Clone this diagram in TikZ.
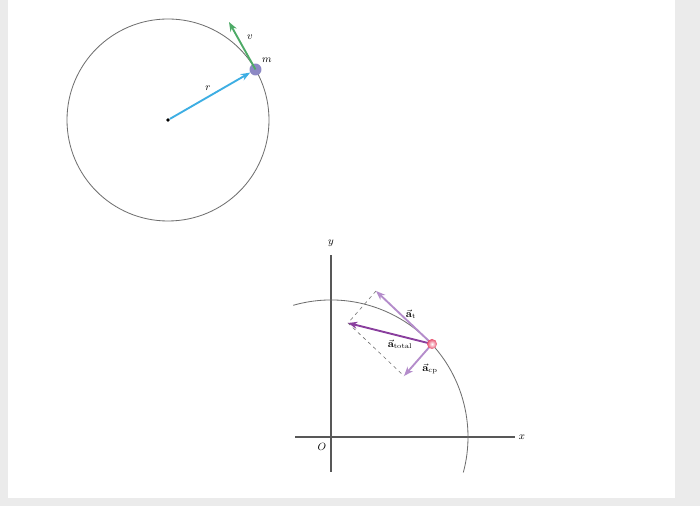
\documentclass[tikz,border=0pt]{standalone}
\usetikzlibrary{arrows.meta,calc}
\definecolor{fond}{HTML}{EBEBEB}
\definecolor{trait}{HTML}{6E6E6E}
\definecolor{bleu}{HTML}{3DAEE3}
\definecolor{vert}{HTML}{4DAA66}
\definecolor{masse}{HTML}{8C88C4}
\definecolor{violet}{HTML}{B48CCB}
\definecolor{violetfonce}{HTML}{8A3F9E}
\definecolor{rose}{HTML}{E8506E}
\begin{document}
\begin{tikzpicture}[x=0.03cm,y=0.03cm]
    \tikzset{etiquette/.style={font=\fontsize{9}{10}\selectfont, inner sep=1pt}}
    \tikzset{fleche/.style={-{Stealth[length=8pt,width=6pt]}, line width=1.6pt}}
    \tikzset{axe/.style={trait!80!black, line width=0.9pt}}
    \fill[fond] (0,0) rectangle (700,506);
    \fill[white] (8,8) rectangle (675,506);
    \useasboundingbox (0,0) rectangle (700,506);
    % cercle du haut
    \node[circle, fill=black, inner sep=1.2pt] (C) at (168,386) {};
    \draw[trait, line width=0.7pt] (C.center) circle[radius=101];
    \node[circle, fill=masse, inner sep=3.6pt] (m) at (255.5,436.5) {};
    \coordinate (v) at (229,484);
    \draw[fleche, vert] (m.center) -- (v);
    \draw[fleche, bleu] (C) -- (m);
    \node[etiquette] at (250,469) {$v$};
    \node[etiquette] at (267,446) {$m$};
    \node[etiquette] at (208,418) {$r$};
    % repere du bas
    \coordinate (O) at (331,69);
    \draw[axe] (331,34) -- (331,251);
    \draw[axe] (295,69) -- (515,69);
    \node[etiquette] at (331,263) {$y$};
    \node[etiquette] at (522,69) {$x$};
    \node[etiquette] at (322,59) {$O$};
    \draw[trait, line width=0.7pt] ([shift={(106:137)}]O) arc[start angle=106, end angle=-15, radius=137];
    \coordinate (P) at (432,162);
    \coordinate (At) at (376,215);
    \coordinate (Acp) at (404,130);
    \coordinate (Atot) at ($(At)+(Acp)-(P)$);
    \draw[trait, dashed, line width=0.5pt] (At) -- (Atot) -- (Acp);
    \draw[fleche, violet] (P) -- (At);
    \draw[fleche, violet] (P) -- (Acp);
    \draw[fleche, violetfonce] (P) -- (Atot);
    \shade[inner color=white, outer color=rose] (P) circle[radius=5];
    \node[etiquette] at (411,192) {$\vec{\mathbf{a}}_{\mathrm{t}}$};
    \node[etiquette] at (400,162) {$\vec{\mathbf{a}}_{\mathrm{total}}$};
    \node[etiquette] at (430,137) {$\vec{\mathbf{a}}_{\mathrm{cp}}$};
\end{tikzpicture}
\end{document}
